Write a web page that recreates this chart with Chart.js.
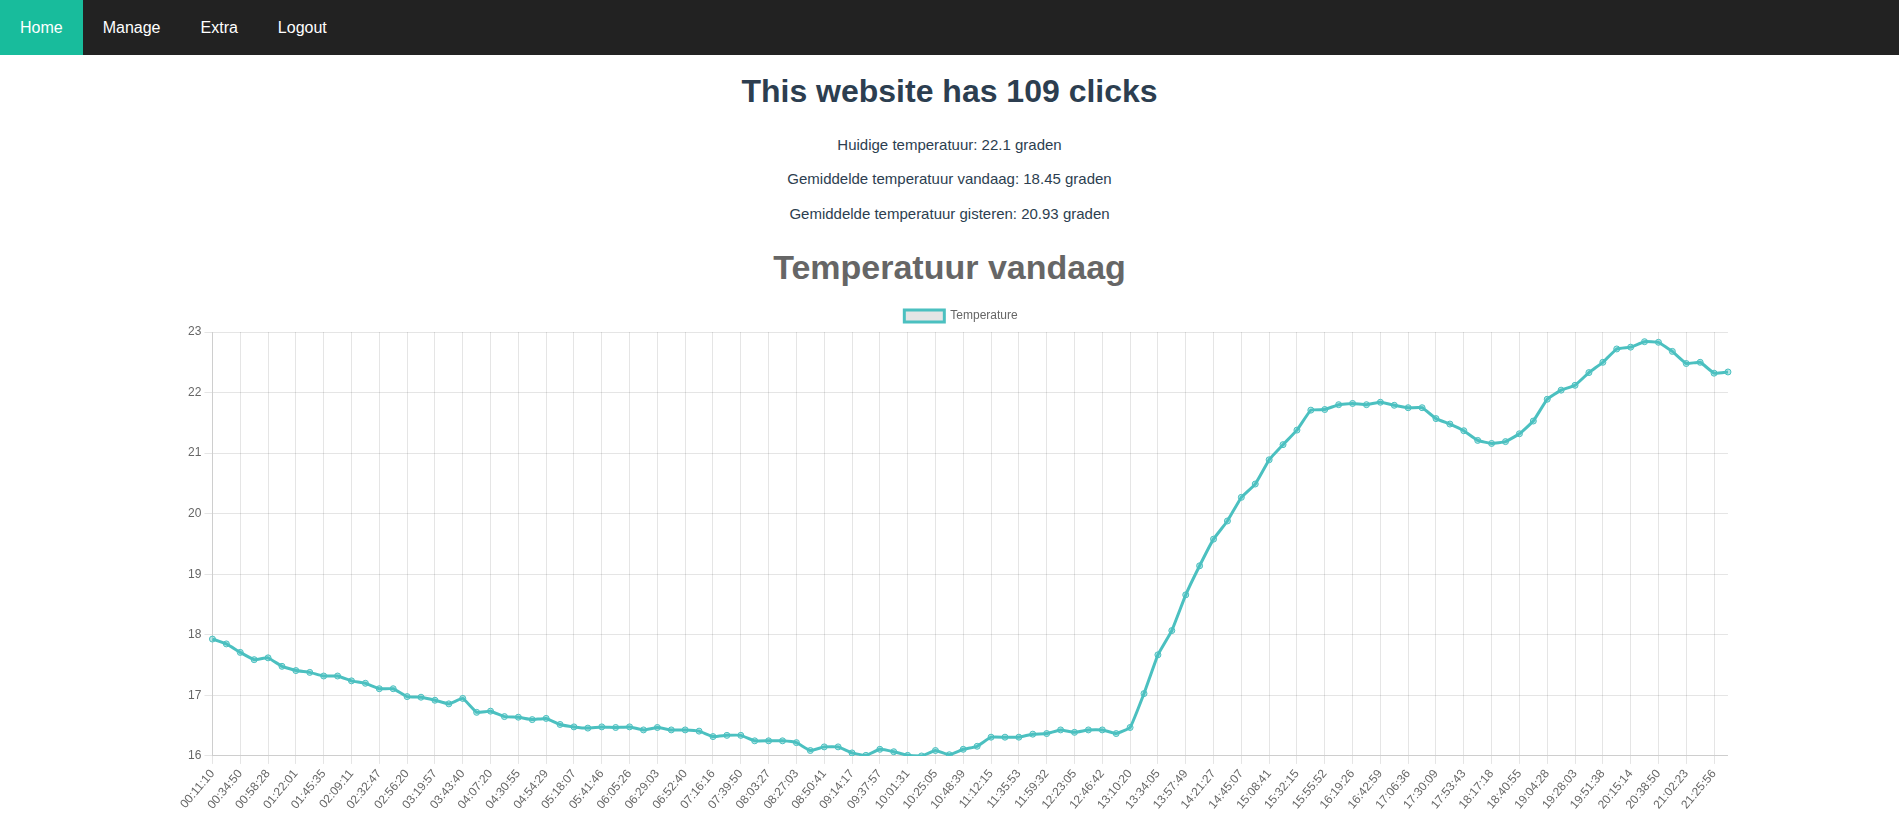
<!DOCTYPE html>
<html><head><meta charset="utf-8">
<script src="https://cdn.jsdelivr.net/npm/chart.js@4"></script>
<style>
html,body{margin:0;padding:0;background:#fff;font-family:"Liberation Sans",Arial,sans-serif;overflow:hidden;}
.nav{height:55px;background:#222;display:flex;align-items:stretch;}
.nav a{color:#fff;text-decoration:none;font-size:16px;display:flex;align-items:center;padding:0 20px;}
.nav a.active{background:#18bc9c;}
h1{position:absolute;top:73px;left:0;right:0;text-align:center;margin:0;font-size:32px;color:#2c3e50;font-weight:bold;}
p.i{position:absolute;left:0;right:0;text-align:center;margin:0;font-size:15px;color:#2c3e50;}
h2{position:absolute;left:0;right:0;text-align:center;margin:0;font-size:34px;color:#666;font-weight:bold;}
#wrap{position:absolute;left:180px;top:300px;width:1562px;height:515px;}
</style></head><body>
<div class="nav"><a class="active">Home</a><a>Manage</a><a>Extra</a><a>Logout</a></div>
<h1>This website has 109 clicks</h1>
<p class="i" style="top:136px">Huidige temperatuur: 22.1 graden</p>
<p class="i" style="top:170px">Gemiddelde temperatuur vandaag: 18.45 graden</p>
<p class="i" style="top:205px">Gemiddelde temperatuur gisteren: 20.93 graden</p>
<h2 style="top:248px">Temperatuur vandaag</h2>
<h2 style="top:820px">Temperatuur deze week</h2>
<div id="wrap"><canvas id="c"></canvas></div>
<script>
const timeLabels = ["00:11:10","00:23:00","00:34:50","00:46:39","00:58:28","01:10:14","01:22:01","01:33:48","01:45:35","01:57:23","02:09:11","02:20:59","02:32:47","02:44:33","02:56:20","03:08:08","03:19:57","03:31:48","03:43:40","03:55:30","04:07:20","04:19:07","04:30:55","04:42:42","04:54:29","05:06:18","05:18:07","05:29:56","05:41:46","05:53:36","06:05:26","06:17:14","06:29:03","06:40:51","06:52:40","07:04:28","07:16:16","07:28:03","07:39:50","07:51:38","08:03:27","08:15:15","08:27:03","08:38:52","08:50:41","09:02:29","09:14:17","09:26:07","09:37:57","09:49:44","10:01:31","10:13:18","10:25:05","10:36:52","10:48:39","11:00:27","11:12:15","11:24:04","11:35:53","11:47:42","11:59:32","12:11:18","12:23:05","12:34:53","12:46:42","12:58:31","13:10:20","13:22:12","13:34:05","13:45:57","13:57:49","14:09:38","14:21:27","14:33:17","14:45:07","14:56:54","15:08:41","15:20:28","15:32:15","15:44:03","15:55:52","16:07:39","16:19:26","16:31:12","16:42:59","16:54:47","17:06:36","17:18:22","17:30:09","17:41:56","17:53:43","18:05:30","18:17:18","18:29:06","18:40:55","18:52:41","19:04:28","19:16:15","19:28:03","19:39:50","19:51:38","20:03:26","20:15:14","20:27:02","20:38:50","20:50:36","21:02:23","21:14:09","21:25:56","21:37:43"];
const temperature = [17.93,17.85,17.71,17.59,17.62,17.48,17.41,17.38,17.32,17.32,17.24,17.20,17.11,17.11,16.98,16.97,16.92,16.86,16.95,16.72,16.74,16.65,16.64,16.60,16.62,16.52,16.48,16.46,16.48,16.47,16.48,16.43,16.47,16.43,16.43,16.41,16.32,16.34,16.34,16.25,16.25,16.25,16.22,16.09,16.15,16.15,16.05,16.01,16.11,16.07,16.01,16.00,16.09,16.02,16.11,16.16,16.31,16.31,16.31,16.36,16.37,16.43,16.39,16.43,16.43,16.37,16.47,17.03,17.67,18.07,18.66,19.14,19.58,19.88,20.27,20.49,20.89,21.14,21.38,21.71,21.72,21.80,21.82,21.80,21.84,21.79,21.75,21.75,21.57,21.48,21.37,21.21,21.16,21.19,21.32,21.53,21.89,22.04,22.12,22.33,22.50,22.72,22.75,22.84,22.83,22.68,22.48,22.50,22.32,22.34];
const yMin = 16, yMax = 23;
const teal = 'rgb(75,192,192)';
Chart.defaults.font.family = '"Liberation Sans", Arial, sans-serif';
Chart.defaults.color = '#666';
new Chart(document.getElementById('c'), {
  type: 'line',
  data: { labels: timeLabels, datasets: [{ label: 'Temperature', data: temperature,
    borderColor: teal, backgroundColor: 'rgba(0,0,0,0.1)', borderWidth: 3, tension: 0.1,
    pointRadius: 3, pointBorderWidth: 1, pointBackgroundColor: 'rgba(75,192,192,0.4)', pointBorderColor: teal, fill: false }] },
  options: {
    responsive: true, maintainAspectRatio: false, animation: false,
    plugins: { legend: { labels: { boxWidth: 40, boxHeight: 12, font: { size: 12 } } }, tooltip: { enabled: false } },
    scales: {
      x: { offset: false,
        grid: { color: c => (c.index % 2 === 0 ? 'rgba(0,0,0,0.1)' : 'transparent') },
        ticks: { autoSkip: false, minRotation: 50, maxRotation: 50, font: { size: 12 },
          callback: function(v, i) { return i % 2 === 0 ? this.getLabelForValue(v) : ''; } } },
      y: { min: yMin, max: yMax, grid: { color: 'rgba(0,0,0,0.1)' }, ticks: { stepSize: 1, font: { size: 12 } } }
    }
  }
});
</script>
</body></html>
